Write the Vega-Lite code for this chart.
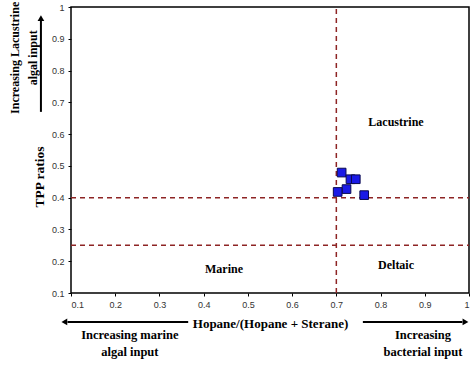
{
  "$schema": "https://vega.github.io/schema/vega-lite/v6.json",
  "width": 398,
  "height": 286,
  "autosize": {"type": "none"},
  "padding": {"left": 71, "top": 7, "right": 5, "bottom": 88},
  "background": "white",
  "config": {
    "view": {"stroke": "black", "strokeWidth": 1.5},
    "axis": {
      "grid": false,
      "domain": false,
      "ticks": true,
      "tickColor": "black",
      "tickSize": 3,
      "labelFont": "Liberation Sans",
      "labelFontSize": 9,
      "labelColor": "#333333",
      "labelPadding": 4,
      "titleFont": "Liberation Serif",
      "titleFontSize": 13,
      "titleFontWeight": "bold",
      "titleColor": "black"
    }
  },
  "datasets": {
    "samples": [
      {"x": 0.712, "y": 0.479},
      {"x": 0.732, "y": 0.458},
      {"x": 0.744, "y": 0.458},
      {"x": 0.723, "y": 0.427},
      {"x": 0.703, "y": 0.418},
      {"x": 0.763, "y": 0.408}
    ],
    "boundaries": [
      {"x": 0.7, "x2": 0.7, "y": 0.1, "y2": 1.0},
      {"x": 0.1, "x2": 1.0, "y": 0.4, "y2": 0.4},
      {"x": 0.1, "x2": 1.0, "y": 0.25, "y2": 0.25}
    ],
    "regions": [
      {"x": 0.835, "y": 0.638, "label": "Lacustrine"},
      {"x": 0.446, "y": 0.175, "label": "Marine"},
      {"x": 0.835, "y": 0.188, "label": "Deltaic"}
    ],
    "shafts": [
      {"x": 0.032, "x2": 0.032, "y": 0.67, "y2": 0.96},
      {"x": 0.092, "x2": 0.365, "y": 0.009, "y2": 0.009},
      {"x": 0.76, "x2": 0.985, "y": 0.009, "y2": 0.009}
    ],
    "heads": [
      {"x": 0.032, "y": 0.965, "dir": "up"},
      {"x": 0.085, "y": 0.009, "dir": "left"},
      {"x": 0.992, "y": 0.009, "dir": "right"}
    ],
    "notes": [
      {"x": 0.233, "y": -0.032, "label": "Increasing marine"},
      {"x": 0.233, "y": -0.086, "label": "algal input"},
      {"x": 0.896, "y": -0.032, "label": "Increasing"},
      {"x": 0.896, "y": -0.086, "label": "bacterial input"}
    ],
    "vnotes": [
      {"x": -0.027, "y": 0.84, "label": "Increasing Lacustrine"},
      {"x": 0.014, "y": 0.84, "label": "algal input"}
    ],
    "ytitle": [
      {"x": 0.03, "y": 0.465, "label": "TPP ratios"}
    ]
  },
  "encoding": {
    "x": {
      "field": "x",
      "type": "quantitative",
      "scale": {"domain": [0.1, 1.0], "nice": false, "zero": false},
      "axis": {
        "title": "Hopane/(Hopane + Sterane)",
        "values": [0.1, 0.2, 0.3, 0.4, 0.5, 0.6, 0.7, 0.8, 0.9, 1.0],
        "format": "~g",
        "titlePadding": 8
      }
    },
    "y": {
      "field": "y",
      "type": "quantitative",
      "scale": {"domain": [0.1, 1.0], "nice": false, "zero": false},
      "axis": {
        "title": null,
        "values": [0.1, 0.2, 0.3, 0.4, 0.5, 0.6, 0.7, 0.8, 0.9, 1.0],
        "format": "~g"
      }
    }
  },
  "layer": [
    {
      "data": {"name": "boundaries"},
      "mark": {"type": "rule", "color": "#8e2424", "strokeWidth": 1.5, "strokeDash": [5, 4]},
      "encoding": {
        "x2": {"field": "x2"},
        "y2": {"field": "y2"}
      }
    },
    {
      "data": {"name": "samples"},
      "mark": {"type": "point", "shape": "square", "filled": true, "size": 75, "color": "#1a1ae6", "stroke": "#0a0a50", "strokeWidth": 1, "opacity": 1}
    },
    {
      "data": {"name": "regions"},
      "mark": {"type": "text", "font": "Liberation Serif", "fontSize": 12, "fontWeight": "bold", "color": "black"},
      "encoding": {"text": {"field": "label"}}
    },
    {
      "data": {"name": "shafts"},
      "mark": {"type": "rule", "color": "black", "strokeWidth": 2},
      "encoding": {
        "x2": {"field": "x2"},
        "y2": {"field": "y2"}
      }
    },
    {
      "data": {"name": "heads"},
      "mark": {"type": "point", "filled": true, "size": 45, "color": "black", "opacity": 1},
      "encoding": {
        "shape": {
          "field": "dir",
          "type": "nominal",
          "scale": {"domain": ["up", "left", "right"], "range": ["triangle-up", "triangle-left", "triangle-right"]},
          "legend": null
        }
      }
    },
    {
      "data": {"name": "notes"},
      "mark": {"type": "text", "font": "Liberation Serif", "fontSize": 12.5, "fontWeight": "bold", "color": "black"},
      "encoding": {"text": {"field": "label"}}
    },
    {
      "data": {"name": "vnotes"},
      "mark": {"type": "text", "font": "Liberation Serif", "fontSize": 12, "fontWeight": "bold", "color": "black", "angle": 270},
      "encoding": {"text": {"field": "label"}}
    },
    {
      "data": {"name": "ytitle"},
      "mark": {"type": "text", "font": "Liberation Serif", "fontSize": 13.5, "fontWeight": "bold", "color": "black", "angle": 270},
      "encoding": {"text": {"field": "label"}}
    }
  ]
}
